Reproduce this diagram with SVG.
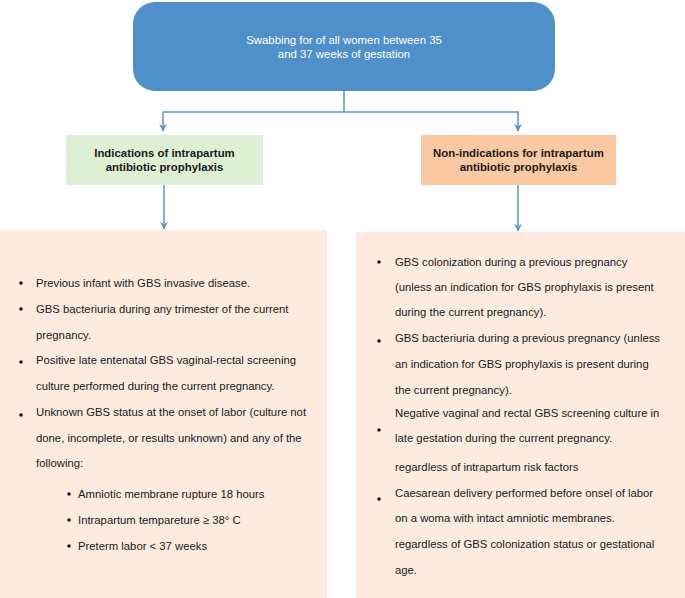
<svg xmlns="http://www.w3.org/2000/svg" width="685" height="598" viewBox="0 0 685 598">
<style>
.t{font-family:"Liberation Sans",Arial,sans-serif;font-size:11.3px;fill:#1a1a1a}
.h{font-family:"Liberation Sans",Arial,sans-serif;font-size:11.4px;font-weight:bold;fill:#1a1a1a;text-anchor:middle}
.w{font-family:"Liberation Sans",Arial,sans-serif;font-size:11.4px;fill:#ffffff;text-anchor:middle}
.c{stroke:#5a97d2;stroke-width:1.5;fill:none}
.b{fill:#1a1a1a}
</style>
<defs>
<marker id="ah" viewBox="0 0 10 10" refX="9" refY="5" markerWidth="8" markerHeight="8" markerUnits="userSpaceOnUse" orient="auto">
<path d="M0,0 L10,5 L0,10 L3,5 Z" fill="#5a97d2"/>
</marker>
</defs>
<g id="top">
<rect x="133" y="2" width="422" height="89" rx="22" ry="22" fill="#4f90cb"/>
<text class="w" x="344" y="44">Swabbing for of all women between 35</text>
<text class="w" x="344" y="58">and 37 weeks of gestation</text>
</g>
<g id="connectors">
<path class="c" d="M344,91 V112 M163,112 H519"/>
<path class="c" d="M163,112 V131" marker-end="url(#ah)"/>
<path class="c" d="M518,112 V131" marker-end="url(#ah)"/>
<path class="c" d="M164,185 V229" marker-end="url(#ah)"/>
<path class="c" d="M518,185 V231" marker-end="url(#ah)"/>
</g>
<g id="ind">
<rect x="66" y="135" width="197" height="50" fill="#ddf0d4"/>
<text class="h" x="164.5" y="157">Indications of intrapartum</text>
<text class="h" x="164.5" y="171">antibiotic prophylaxis</text>
</g>
<g id="nonind">
<rect x="421" y="135" width="195" height="50" fill="#f9c9a3"/>
<text class="h" x="518.5" y="157">Non-indications for intrapartum</text>
<text class="h" x="518.5" y="171">antibiotic prophylaxis</text>
</g>
<g id="indlist">
<rect x="0" y="230" width="327" height="368" fill="#fdebdf"/>
<circle class="b" cx="21" cy="283" r="1.8"/>
<text class="t" x="36" y="287">Previous infant with GBS invasive disease.</text>
<circle class="b" cx="21" cy="309" r="1.8"/>
<text class="t" x="36" y="313">GBS bacteriuria during any trimester of the current</text>
<text class="t" x="36" y="339">pregnancy.</text>
<circle class="b" cx="21" cy="362" r="1.8"/>
<text class="t" x="36" y="364">Positive late entenatal GBS vaginal-rectal screening</text>
<text class="t" x="36" y="390">culture performed during the current pregnancy.</text>
<circle class="b" cx="21" cy="415" r="1.8"/>
<text class="t" x="36" y="416">Unknown GBS status at the onset of labor (culture not</text>
<text class="t" x="36" y="442">done, incomplete, or results unknown) and any of the</text>
<text class="t" x="36" y="467">following:</text>
<circle class="b" cx="69" cy="494" r="1.8"/>
<text class="t" x="78" y="498">Amniotic membrane rupture 18 hours</text>
<circle class="b" cx="69" cy="520" r="1.8"/>
<text class="t" x="78" y="524">Intrapartum tempareture ≥ 38° C</text>
<circle class="b" cx="69" cy="546" r="1.8"/>
<text class="t" x="78" y="550">Preterm labor &lt; 37 weeks</text>
</g>
<g id="nonlist">
<rect x="356" y="232" width="329" height="366" fill="#fdebdf"/>
<circle class="b" cx="379" cy="262" r="1.8"/>
<text class="t" x="395" y="266">GBS colonization during a previous pregnancy</text>
<text class="t" x="395" y="291">(unless an indication for GBS prophylaxis is present</text>
<text class="t" x="395" y="316">during the current pregnancy).</text>
<circle class="b" cx="379" cy="341" r="1.8"/>
<text class="t" x="395" y="342">GBS bacteriuria during a previous pregnancy (unless</text>
<text class="t" x="395" y="368">an indication for GBS prophylaxis is present during</text>
<text class="t" x="395" y="394">the current pregnancy).</text>
<circle class="b" cx="379" cy="430" r="1.8"/>
<text class="t" x="395" y="417">Negative vaginal and rectal GBS screening culture in</text>
<text class="t" x="395" y="442">late gestation during the current pregnancy.</text>
<text class="t" x="395" y="471">regardless of intrapartum risk factors</text>
<circle class="b" cx="379" cy="499" r="1.8"/>
<text class="t" x="395" y="497">Caesarean delivery performed before onsel of labor</text>
<text class="t" x="395" y="522">on a woma with intact amniotic membranes.</text>
<text class="t" x="395" y="548">regardless of GBS colonization status or gestational</text>
<text class="t" x="395" y="574">age.</text>
</g>
</svg>
